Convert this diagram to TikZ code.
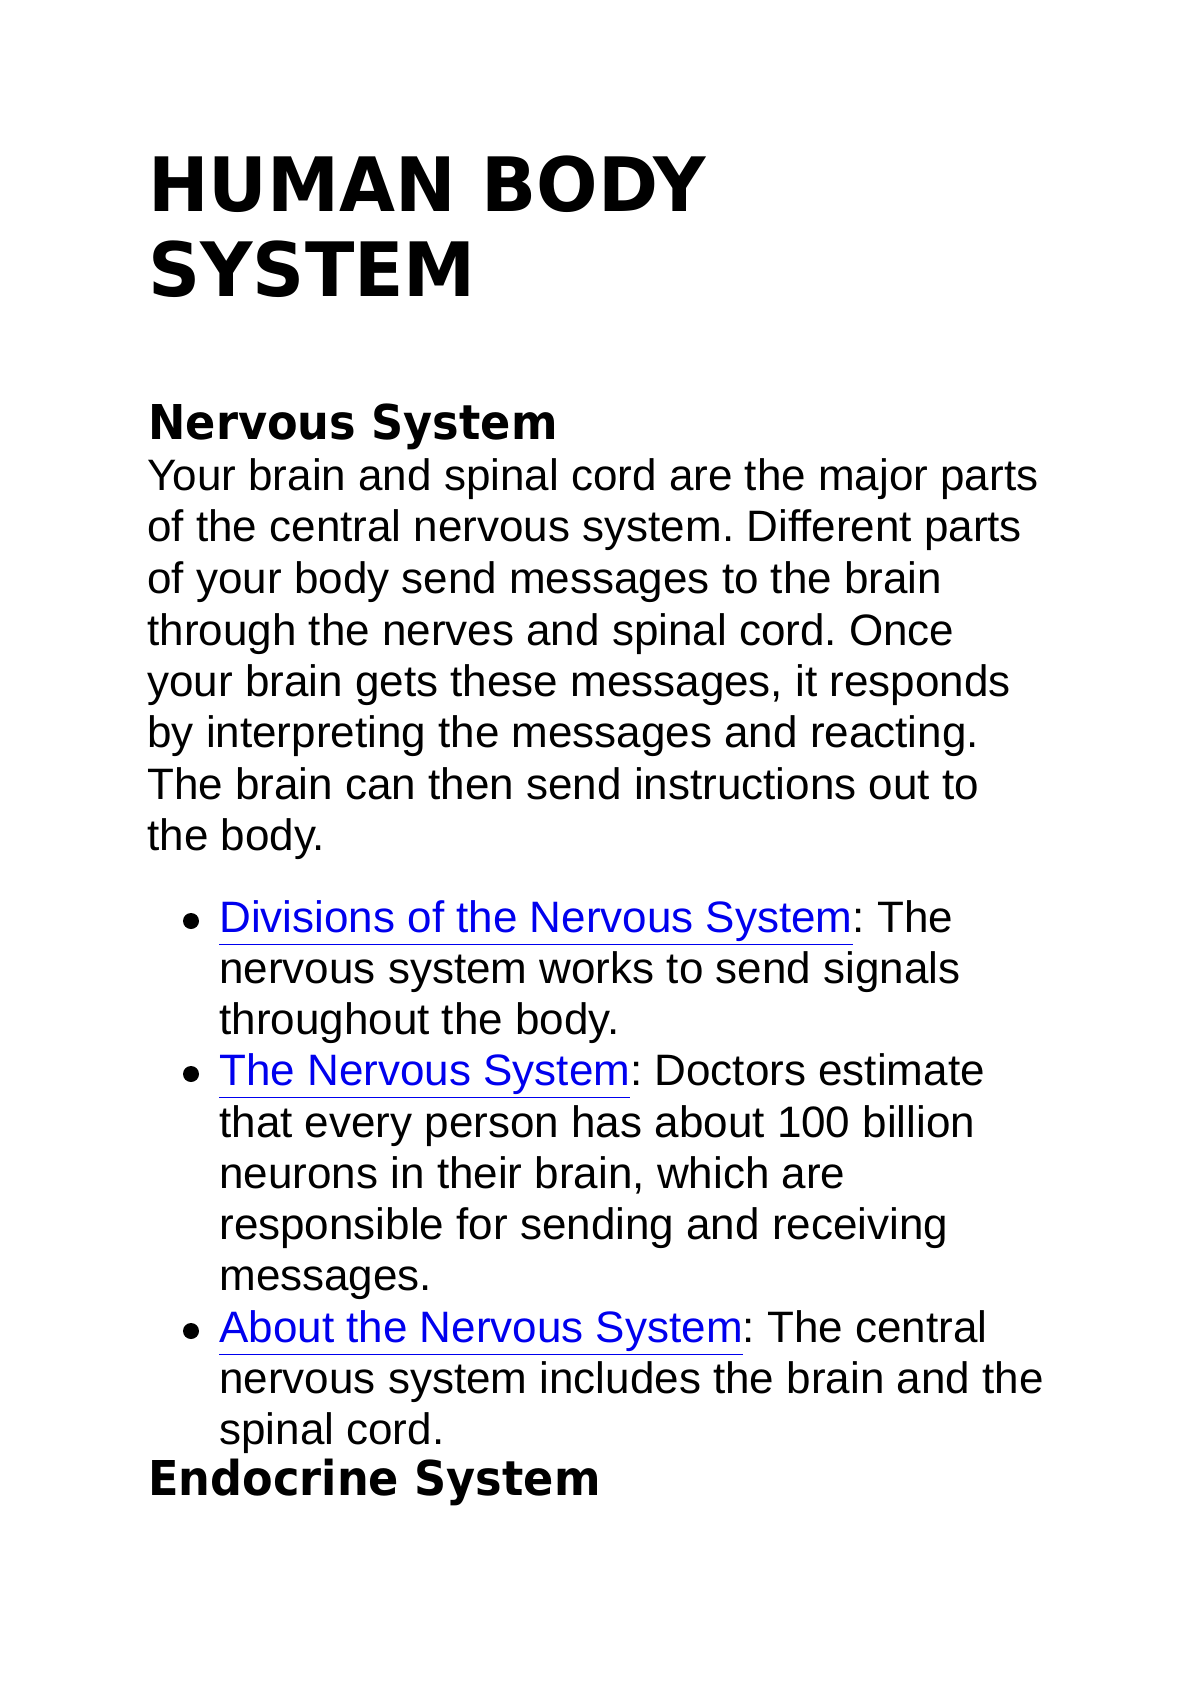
\documentclass[tikz,border=0pt]{standalone}
\usepackage{fontspec}
\setmainfont{Liberation Sans}
\newfontfamily\headfont{DejaVu Sans}
\usepackage{xcolor}
\definecolor{linkblue}{RGB}{0,0,238}
\newcommand{\lnk}[1]{\textcolor{linkblue}{\underline{#1}}}
\frenchspacing
\begin{document}
\frenchspacing
\begin{tikzpicture}[x=0.5pt,y=-0.5pt,
  ln/.style={anchor=base west,inner sep=0pt,font=\fontsize{22}{26}\selectfont\frenchspacing},
  ttl/.style={anchor=base west,inner sep=0pt,xscale=0.965,font=\headfont\bfseries\fontsize{37.5}{42}\selectfont},
  hd/.style={anchor=base west,inner sep=0pt,xscale=0.93,font=\headfont\bfseries\fontsize{24}{28}\selectfont},
  dot/.style={circle,fill=black,inner sep=0pt,minimum size=8pt}]
\fill[white] (0,0) rectangle (1200,1698);
\node[ttl] (t1) at (148,211) {HUMAN BODY};
\node[ttl] (t2) at (148,296) {SYSTEM};
\node[hd] (h1) at (148,439) {Nervous System};
\node[ln] (p1) at (147,490) {Your brain and spinal cord are the major parts};
\node[ln] (p2) at (147,541) {of the central nervous system. Different parts};
\node[ln] (p3) at (147,593) {of your body send messages to the brain};
\node[ln] (p4) at (147,645) {through the nerves and spinal cord. Once};
\node[ln] (p5) at (147,696) {your brain gets these messages, it responds};
\node[ln] (p6) at (147,747) {by interpreting the messages and reacting.};
\node[ln] (p7) at (147,799) {The brain can then send instructions out to};
\node[ln] (p8) at (147,850) {the body.};
\node[dot] (d1) at (191,921) {};
\node[ln] (b1) at (219,932) {\lnk{Divisions of the Nervous System}: The};
\node[ln] (b2) at (219,983) {nervous system works to send signals};
\node[ln] (b3) at (219,1034) {throughout the body.};
\node[dot] (d2) at (191,1074) {};
\node[ln] (b4) at (219,1085) {\lnk{The Nervous System}: Doctors estimate};
\node[ln] (b5) at (219,1137) {that every person has about 100 billion};
\node[ln] (b6) at (219,1188) {neurons in their brain, which are};
\node[ln] (b7) at (219,1239) {responsible for sending and receiving};
\node[ln] (b8) at (219,1290) {messages.};
\node[dot] (d3) at (191,1331) {};
\node[ln] (b9) at (219,1342) {\lnk{About the Nervous System}: The central};
\node[ln] (b10) at (219,1393) {nervous system includes the brain and the};
\node[ln] (b11) at (219,1444) {spinal cord.};
\node[hd] (h2) at (148,1495) {Endocrine System};
\end{tikzpicture}
\end{document}
